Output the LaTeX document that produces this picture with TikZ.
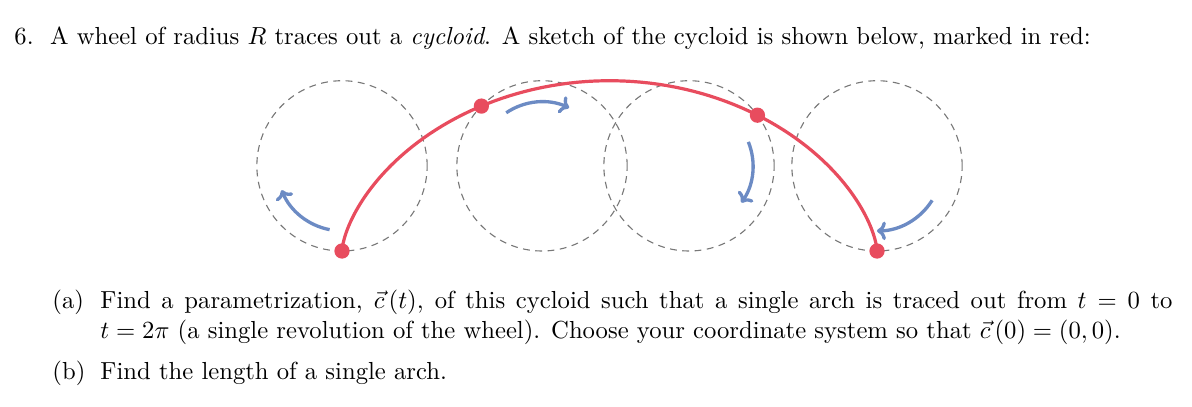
\documentclass[tikz,border=0pt]{standalone}
\usetikzlibrary{arrows.meta}
\definecolor{cyred}{RGB}{232,76,94}
\definecolor{cyblue}{RGB}{108,139,196}
\definecolor{cygray}{RGB}{120,120,120}
\begin{document}
\begin{tikzpicture}[x=0.4056pt,y=0.4056pt,
  wheel/.style={circle,draw=cygray,line width=0.45pt,dash pattern=on 2.8pt off 2.2pt,minimum size=69.07pt,inner sep=0pt},
  dot/.style={circle,fill=cyred,inner sep=0pt,minimum size=6.2pt},
  spin/.style={draw=cyblue,line width=1.35pt,-{To[length=3.6pt,width=7.5pt]}},
  arch/.style={draw=cyred,line width=1.3pt},
  txt/.style={anchor=base west,inner sep=0pt}]
\useasboundingbox (0,0) rectangle (1192,406);
% wheels
\node[wheel] (w1) at (342,240.15) {};
\node[wheel] (w2) at (542,240.15) {};
\node[wheel] (w3) at (689,240.15) {};
\node[wheel] (w4) at (877,240.15) {};
% cycloid
\draw[arch] plot[domain=0:6.28319,samples=120,variable=\t]
  ({342+85.15*(\t-sin(\t r))},{155+85.15*(1-cos(\t r))});
% points on the cycloid
\node[dot] (p1) at (342,155) {};
\node[dot] (p2) at ({342+85.15*(2.349-sin(2.349 r))},{155+85.15*(1-cos(2.349 r))}) {};
\node[dot] (p3) at ({342+85.15*(4.075-sin(4.075 r))},{155+85.15*(1-cos(4.075 r))}) {};
\node[dot] (p4) at (877,155) {};
% rotation arrows
\draw[spin] ([shift={(259:65)}]w1.center) arc[start angle=259,end angle=202,radius=65];
\draw[spin] ([shift={(124:64)}]w2.center) arc[start angle=124,end angle=65,radius=64];
\draw[spin] ([shift={(22:64)}]w3.center) arc[start angle=22,end angle=-35,radius=64];
\draw[spin] ([shift={(-32:65)}]w4.center) arc[start angle=-32,end angle=-90,radius=65];
% text
\node[txt] (q) at (14,362) {6.\ \ A wheel of radius $R$ traces out a \emph{cycloid}. A sketch of the cycloid is shown below, marked in red:};
\node[txt] (la) at (52,98) {(a)};
\node[txt] (a1) at (100,98) {\makebox[434.8pt][s]{Find a parametrization, $\vec{c}\,(t)$, of this cycloid such that a single arch is traced out from $t=0$ to}};
\node[txt] (a2) at (100,68) {$t=2\pi$ (a single revolution of the wheel). Choose your coordinate system so that $\vec{c}\,(0)=(0,0)$.};
\node[txt] (lb) at (52,27) {(b)};
\node[txt] (b1) at (100,27) {Find the length of a single arch.};
\end{tikzpicture}
\end{document}
